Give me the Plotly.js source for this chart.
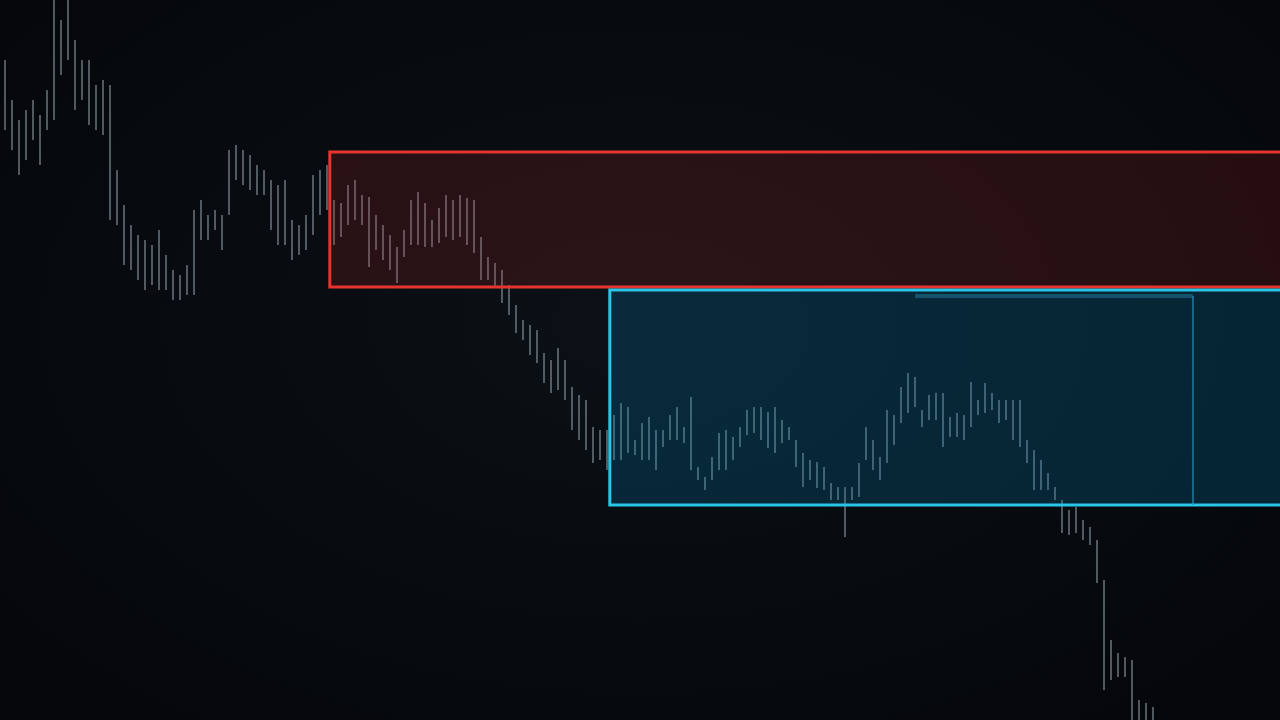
<!DOCTYPE html>
<html>
<head>
<meta charset="utf-8">
<script src="https://cdn.plot.ly/plotly-3.0.1.min.js"></script>
<style>
  html, body { margin: 0; padding: 0; width: 1280px; height: 720px; overflow: hidden;
    background: radial-gradient(ellipse at 50% 45%, #0b1116 0%, #080c10 45%, #040609 100%); }
  #chart { width: 1280px; height: 720px; }
</style>
</head>
<body>
<div id="chart"></div>
<script>
// Bar highs and lows (price units), one per session
const highs = [660,620,600,610,620,605,630,720,700,720,680,660,660,635,640,635,550,515,495,485,
  480,475,490,465,450,445,455,510,520,505,510,505,570,575,570,565,555,550,540,535,
  540,500,495,505,545,550,555,520,517,535,540,525,523,505,495,485,473,490,520,528,
  517,500,512,525,520,525,522,520,483,463,457,450,435,415,400,395,390,367,360,372,
  360,333,325,320,293,290,290,305,317,313,280,297,303,290,290,305,313,293,323,253,
  243,263,287,290,283,293,310,313,313,308,313,300,293,280,267,260,258,253,237,233,
  233,233,257,293,280,263,310,305,333,347,343,310,325,327,327,303,307,305,338,320,
  337,327,320,320,320,320,280,270,260,247,233,220,210,213,200,193,180,140,80,67,
  63,60,20,17,13];
const lows = [590,570,545,560,580,555,590,600,645,660,610,620,595,590,585,500,495,455,450,440,
  430,435,430,430,420,420,425,425,480,480,490,470,505,540,535,530,525,525,490,475,
  475,460,465,470,485,505,510,475,483,495,500,495,453,470,460,450,437,463,475,475,
  473,473,477,483,480,483,475,467,440,440,433,417,405,387,380,365,357,337,327,330,
  320,290,280,270,257,260,250,260,260,267,265,260,260,250,273,280,280,277,250,240,
  230,240,250,250,260,273,285,287,280,272,267,277,280,253,233,240,232,230,220,220,
  183,220,223,260,250,240,257,275,297,307,313,293,300,300,273,283,283,280,293,305,
  307,310,297,300,280,273,257,230,230,230,220,187,185,187,180,175,137,30,40,43,
  43,0,-5,-10,-15];
const sessions = highs.map((_, i) => i);

// Zones (session index / price units)
const supplyStart = 46.4, supplyEnd = 184, supplyTop = 568, supplyBottom = 433;
const demandStart = 86.4, demandEnd = 184, demandTop = 430, demandBottom = 215;
const demandSplit = 169.7, demandInnerTop = 424, demandInnerStart = 130;

const ranges = highs.map((h, i) => h - lows[i]);

const trace = {
  type: 'bar',
  x: sessions,
  y: ranges,
  base: lows,
  width: 0.24,
  marker: { color: 'rgba(140,156,164,0.55)', line: { width: 0 } },
  hoverinfo: 'skip'
};

const layout = {
  width: 1280, height: 720,
  margin: { l: 0, r: 0, t: 0, b: 0 },
  paper_bgcolor: 'rgba(0,0,0,0)',
  plot_bgcolor: 'rgba(0,0,0,0)',
  showlegend: false,
  bargap: 0,
  xaxis: { range: [-0.714, 182.14], visible: false, fixedrange: true },
  yaxis: { range: [0, 720], visible: false, fixedrange: true },
  shapes: [
    { type: 'rect', layer: 'above', xref: 'x', yref: 'y',
      x0: supplyStart, x1: supplyEnd, y0: supplyBottom, y1: supplyTop,
      fillcolor: 'rgba(200,40,40,0.17)', line: { color: '#e5352e', width: 3 } },
    { type: 'rect', layer: 'above', xref: 'x', yref: 'y',
      x0: demandStart, x1: demandEnd, y0: demandBottom, y1: demandTop,
      fillcolor: 'rgba(5,125,180,0.24)', line: { color: '#29c6e8', width: 3 } },
    { type: 'line', layer: 'above', xref: 'x', yref: 'y',
      x0: demandSplit, x1: demandSplit, y0: demandBottom, y1: demandInnerTop,
      line: { color: 'rgba(40,150,190,0.6)', width: 2 } },
    { type: 'line', layer: 'above', xref: 'x', yref: 'y',
      x0: demandInnerStart, x1: demandSplit, y0: demandInnerTop, y1: demandInnerTop,
      line: { color: 'rgba(40,150,190,0.4)', width: 4 } }
  ]
};

Plotly.newPlot('chart', [trace], layout, { displayModeBar: false, staticPlot: true });
</script>
</body>
</html>
